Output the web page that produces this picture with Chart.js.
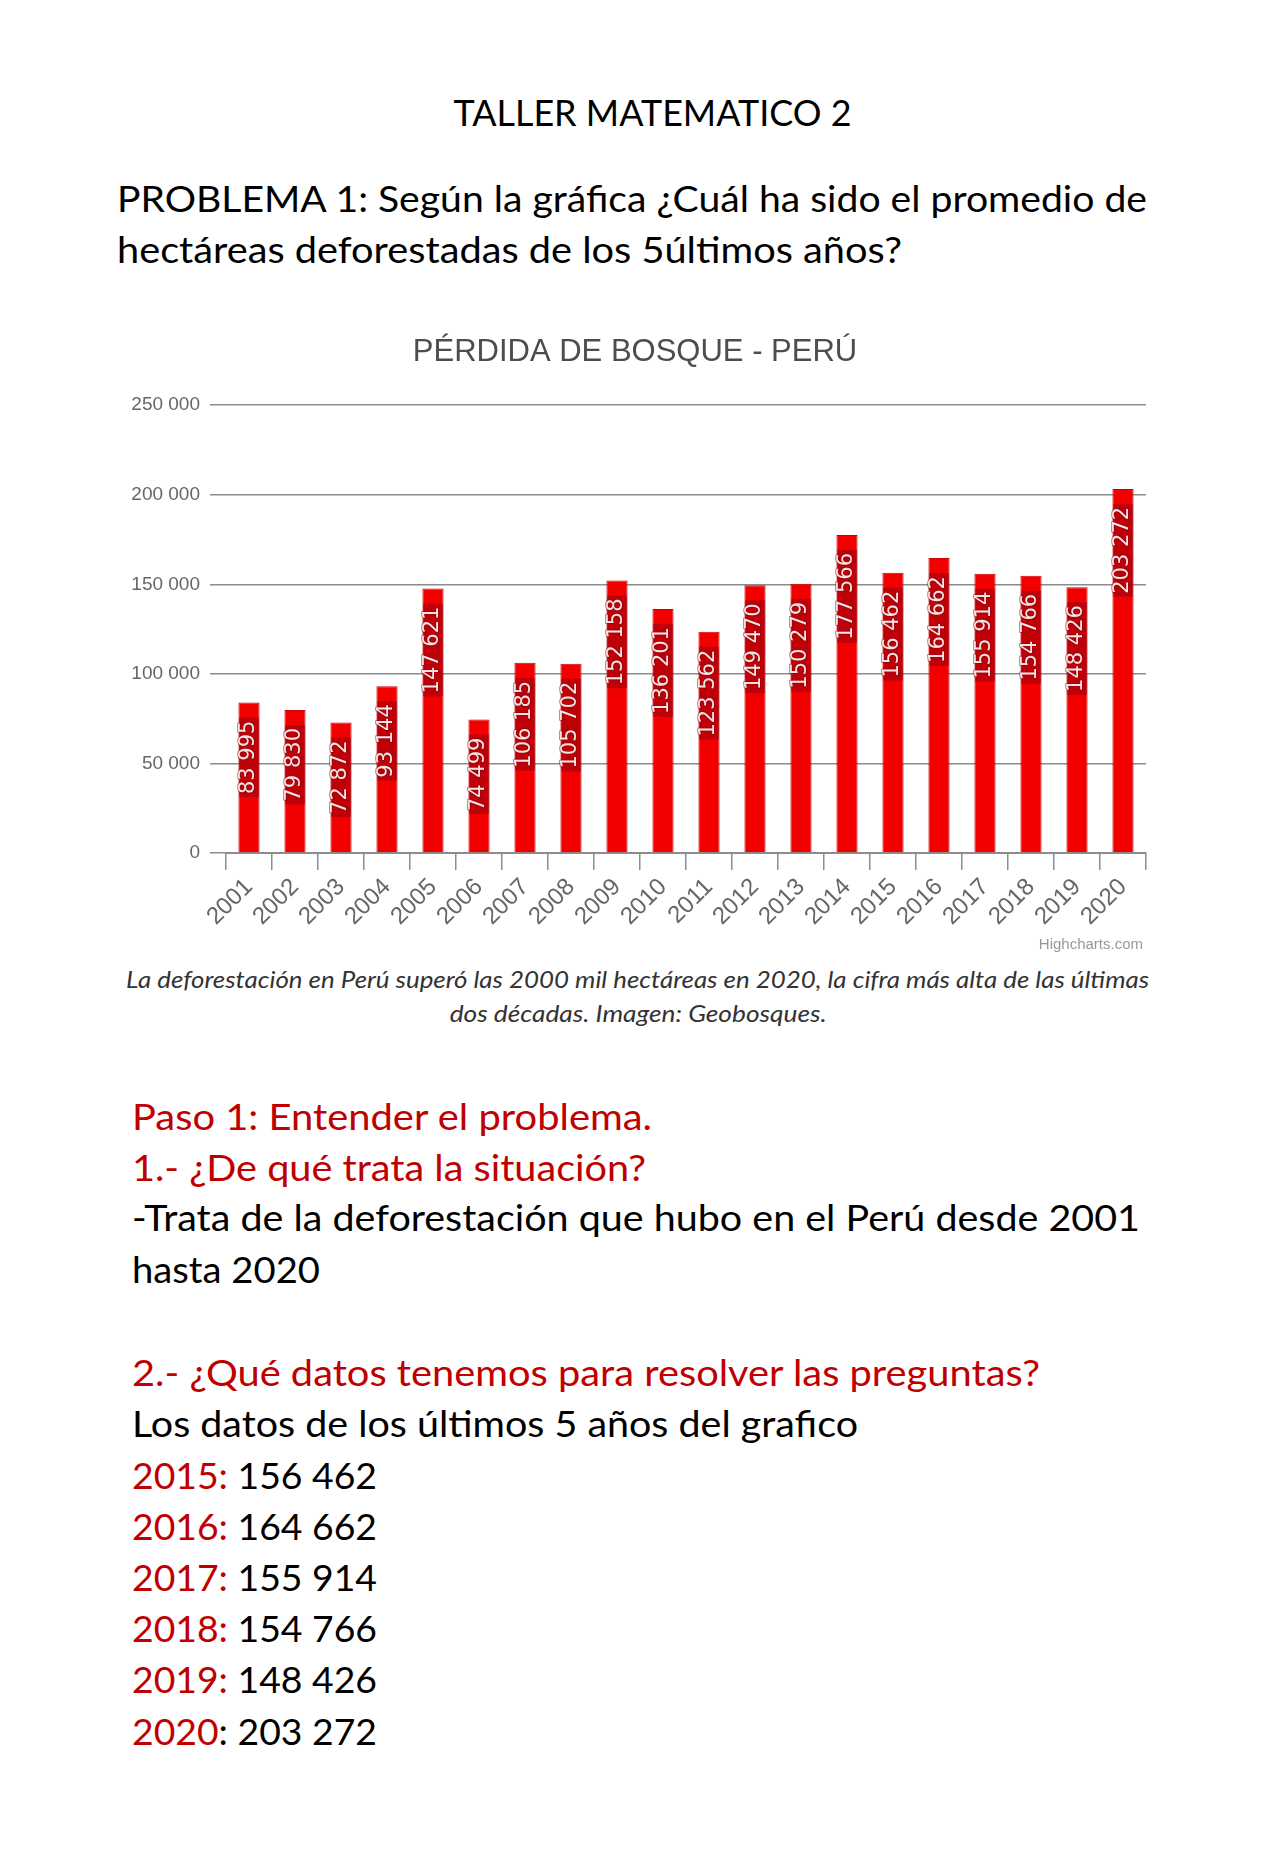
<!DOCTYPE html>
<html>
<head>
<meta charset="utf-8">
<script src="https://cdn.jsdelivr.net/npm/chart.js@4.4.1/dist/chart.umd.min.js"></script>
<style>
html,body{margin:0;padding:0;background:#fff;}
#page{position:relative;width:1280px;height:1849px;overflow:hidden;font-family:Lato,"Open Sans",sans-serif;}
.ln{position:absolute;white-space:nowrap;color:#000;}
.ln .t{display:inline-block;}
.body{height:50px;line-height:50px;font-size:36px;}
.cap{height:34px;line-height:34px;font-size:24px;font-style:italic;color:#333;}
.red{color:#c00000;}
#chartWrap{position:absolute;left:100px;top:320px;width:1080px;height:640px;}
#credits{position:absolute;right:137px;top:934px;font-family:"Liberation Sans",Arial,sans-serif;font-size:15px;color:#999;line-height:20px;}
</style>
</head>
<body>
<div id="page">
  <div id="chartWrap"><canvas id="c" width="1080" height="640"></canvas></div>
  <div id="credits">Highcharts.com</div>
</div>
<script>
// ---- data ----
const CATEGORIES = ['2001','2002','2003','2004','2005','2006','2007','2008','2009','2010',
                    '2011','2012','2013','2014','2015','2016','2017','2018','2019','2020'];
const VALUES = [83995, 79830, 72872, 93144, 147621, 74499, 106185, 105702, 152158, 136201,
                123562, 149470, 150279, 177566, 156462, 164662, 155914, 154766, 148426, 203272];
const Y_TICKS = [0, 50000, 100000, 150000, 200000, 250000];
const CHART_TITLE = 'PÉRDIDA DE BOSQUE - PERÚ';
const LIST_COUNT = 6;

function fmt(n){ return String(n).replace(/\B(?=(\d{3})+(?!\d))/g, ' '); }

const page = document.getElementById('page');
function addLine(html, o){
  const d = document.createElement('div');
  d.className = 'ln ' + (o.cls || 'body');
  const h = o.h || 50;
  d.style.top = (o.cy - h/2) + 'px';
  if (o.align === 'center'){
    d.style.left = (o.x - 640) + 'px';
    d.style.width = '1280px';
    d.style.textAlign = 'center';
  } else {
    d.style.left = o.x + 'px';
  }
  const s = document.createElement('span');
  s.className = 't';
  s.innerHTML = html;
  s.dataset.w = o.w;
  s.style.transformOrigin = o.align === 'center' ? 'center' : 'left';
  d.appendChild(s);
  page.appendChild(d);
}

addLine('TALLER MATEMATICO 2', {x:653, cy:112, w:398, align:'center'});
addLine('PROBLEMA 1: Según la gráfica ¿Cuál ha sido el promedio de', {x:117, cy:198, w:1030});
addLine('hectáreas deforestadas de los 5últimos años?', {x:117, cy:249, w:785});
addLine('La deforestación en Perú superó las 2000 mil hectáreas en 2020, la cifra más alta de las últimas', {x:638, cy:979, w:1023, align:'center', cls:'cap', h:34});
addLine('dos décadas. Imagen: Geobosques.', {x:638, cy:1013, w:377, align:'center', cls:'cap', h:34});
addLine('<span class="red">Paso 1: Entender el problema.</span>', {x:132, cy:1116, w:520});
addLine('<span class="red">1.- ¿De qué trata la situación?</span>', {x:132, cy:1167, w:514});
addLine('-Trata de la deforestación que hubo en el Perú desde ' + CATEGORIES[0], {x:132, cy:1217, w:1008});
addLine('hasta ' + CATEGORIES[CATEGORIES.length-1], {x:132, cy:1269, w:188});
addLine('<span class="red">2.- ¿Qué datos tenemos para resolver las preguntas?</span>', {x:132, cy:1372, w:908});
addLine('Los datos de los últimos 5 años del grafico', {x:132, cy:1423, w:726});
const start = CATEGORIES.length - LIST_COUNT;
for (let i = 0; i < LIST_COUNT; i++){
  const k = start + i;
  const last = i === LIST_COUNT - 1;
  const html = last
    ? '<span class="red">' + CATEGORIES[k] + '</span>: ' + fmt(VALUES[k])
    : '<span class="red">' + CATEGORIES[k] + ':</span> ' + fmt(VALUES[k]);
  addLine(html, {x:132, cy:1475 + i*51.1, w:245});
}

function fitText(){
  document.querySelectorAll('.ln .t').forEach(s => {
    const w = parseFloat(s.dataset.w);
    const r = s.getBoundingClientRect().width;
    if (w && r) s.style.transform = 'scaleX(' + (w / r).toFixed(4) + ')';
  });
}

const barLabels = {
  id: 'barLabels',
  afterDatasetsDraw(chart){
    const ctx = chart.ctx;
    const meta = chart.getDatasetMeta(0);
    const data = chart.data.datasets[0].data;
    ctx.save();
    ctx.font = '21px "DejaVu Sans", Verdana, sans-serif';
    meta.data.forEach((bar, i) => {
      const txt = fmt(data[i]);
      ctx.save();
      ctx.translate(bar.x, bar.y + 18);
      ctx.rotate(-Math.PI / 2);
      ctx.textAlign = 'right';
      ctx.textBaseline = 'middle';
      const w = ctx.measureText(txt).width;
      ctx.fillStyle = 'rgba(150,0,15,0.55)';
      ctx.fillRect(-w - 3, -10, w + 6, 20);
      ctx.lineJoin = 'round';
      ctx.lineWidth = 2;
      ctx.strokeStyle = 'rgba(130,0,10,0.45)';
      ctx.strokeText(txt, 0, 0);
      ctx.fillStyle = '#f3e4e4';
      ctx.fillText(txt, 0, 0);
      ctx.restore();
    });
    ctx.restore();
  }
};

function drawChart(){
  new Chart(document.getElementById('c'), {
    type: 'bar',
    data: {
      labels: CATEGORIES,
      datasets: [{
        data: VALUES,
        backgroundColor: '#f20000',
        borderColor: '#c80000',
        borderWidth: 1,
        categoryPercentage: 1,
        barPercentage: 0.46
      }]
    },
    options: {
      responsive: false,
      animation: false,
      devicePixelRatio: 1,
      layout: {padding: {left: 24, right: 34, top: 0, bottom: 0}},
      plugins: {
        legend: {display: false},
        tooltip: {enabled: false},
        title: {
          display: true,
          text: CHART_TITLE,
          color: '#4d4d4d',
          font: {family: '"Liberation Sans", Arial, sans-serif', size: 31, weight: 'normal'},
          padding: {top: 14, bottom: 34}
        }
      },
      scales: {
        x: {
          type: 'category',
          offset: true,
          grid: {display: true, drawOnChartArea: false, drawTicks: true, tickLength: 17, offset: true, color: '#8c8c8c', lineWidth: 1.5},
          border: {display: true, color: '#8c8c8c', width: 2},
          ticks: {autoSkip: false, minRotation: 45, maxRotation: 45, color: '#666',
                  font: {family: '"Liberation Sans", Arial, sans-serif', size: 24}, padding: 3},
          afterFit: s => { s.height = 107; }
        },
        y: {
          min: Y_TICKS[0],
          max: Y_TICKS[Y_TICKS.length - 1],
          grid: {color: '#8c8c8c', lineWidth: 1.5, drawTicks: true, tickLength: 16},
          border: {display: false},
          ticks: {stepSize: Y_TICKS[1] - Y_TICKS[0], color: '#666', padding: 10,
                  font: {family: '"Liberation Sans", Arial, sans-serif', size: 19},
                  callback: v => fmt(v)},
          afterFit: s => { s.width = 102; }
        }
      }
    },
    plugins: [barLabels]
  });
}

document.fonts.ready.then(() => { fitText(); drawChart(); });
</script>
</body>
</html>
